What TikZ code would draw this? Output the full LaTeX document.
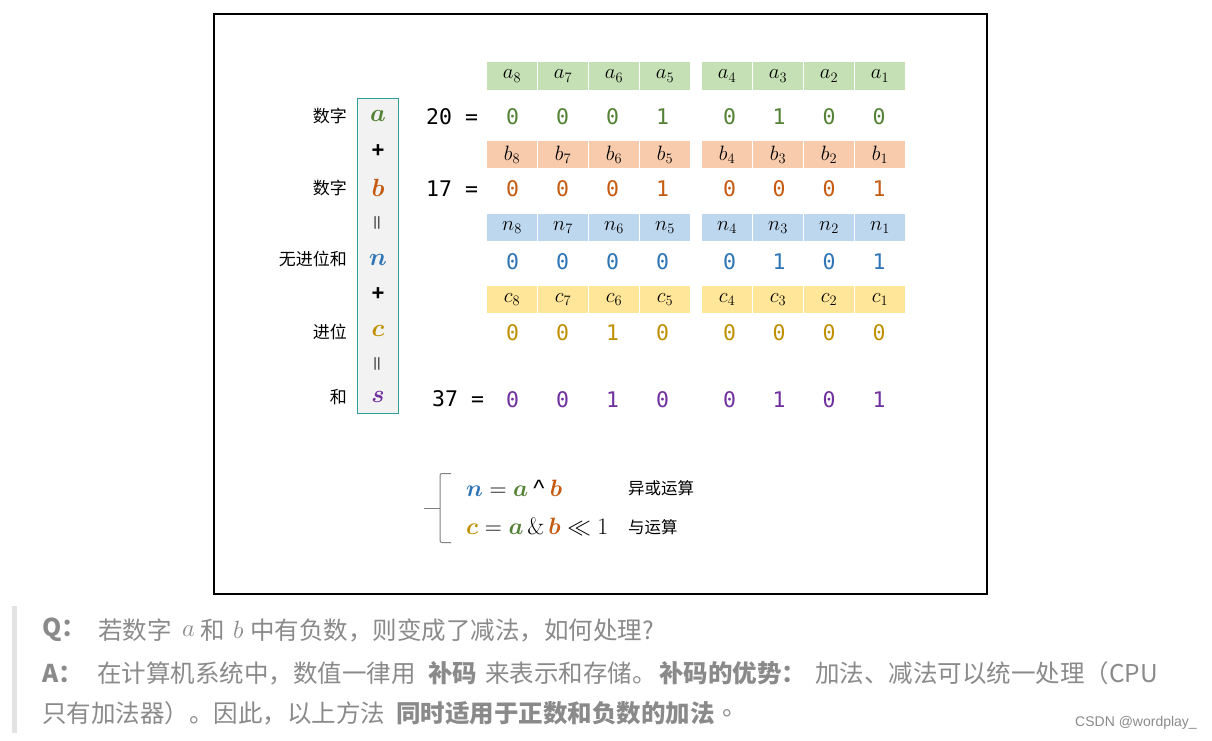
\documentclass[tikz,border=0pt]{standalone}
\usepackage{graphicx}
\usepackage{amsmath,amssymb,bm}
\usepackage{fontspec}
\newfontfamily\cjk{Noto Sans CJK SC}
\newfontfamily\monof{DejaVu Sans Mono}
\newfontfamily\arialf{Liberation Sans}
\definecolor{ga}{HTML}{548235}
\definecolor{ob}{HTML}{C55A11}
\definecolor{bn}{HTML}{2E75B6}
\definecolor{yc}{HTML}{BF9000}
\definecolor{ps}{HTML}{7030A0}
\definecolor{hga}{HTML}{C5E0B4}
\definecolor{hob}{HTML}{F8CBAD}
\definecolor{hbn}{HTML}{BDD7EE}
\definecolor{hyc}{HTML}{FFE699}
\definecolor{colfill}{HTML}{F2F2F2}
\definecolor{colline}{HTML}{2E9E98}
\definecolor{txtgray}{HTML}{8A8A8A}
\definecolor{bargray}{HTML}{E3E3E3}
\definecolor{bracegray}{HTML}{808080}
\tikzset{
  hdr/.style={minimum width=49.5, minimum height=27.5, inner sep=0, font=\fontsize{20.74}{22}\selectfont},
  dig/.style={font=\monof\fontsize{21.5}{24}\selectfont, inner sep=0},
  numlab/.style={font=\monof\fontsize{21.5}{24}\selectfont, inner sep=0, anchor=west},
  lab/.style={font=\cjk\fontsize{17}{20}\selectfont, anchor=east, inner sep=0},
  letter/.style={font=\fontsize{24.88}{26}\selectfont, inner sep=0},
  opsym/.style={font=\arialf\bfseries\fontsize{22}{22}\selectfont, inner sep=0},
  eqsym/.style={font=\fontsize{17.28}{20}\selectfont, inner sep=0, rotate=90},
  colbox/.style={draw=colline, fill=colfill, line width=1, minimum width=41, minimum height=314, inner sep=0},
  formula/.style={font=\fontsize{20.74}{24}\selectfont, inner sep=0, anchor=west},
  oplab/.style={font=\cjk\fontsize{16.5}{20}\selectfont, inner sep=0, anchor=west},
  qa/.style={font=\cjk\fontsize{24.5}{28}\selectfont, text=txtgray, inner sep=0, anchor=west},
  qab/.style={qa, font=\cjk\bfseries\fontsize{24.5}{28}\selectfont},
}
\newcommand{\caretsym}{\mathbin{\text{\arialf\char`\^}}}
\begin{document}
\begin{tikzpicture}[x=1pt,y=-1pt]
\useasboundingbox (0,0) rectangle (1212,741);
\fill[white] (0,0) rectangle (1212,741);
% frame
\node[draw=black, line width=1.5, minimum width=773, minimum height=580, inner sep=0] (frame) at (600.5,304) {};
% left column
\node[colbox] (col) at (378,256) {};
\node[letter, text=ga] (la) at (378,116) {$\bm{a}$};
\node[opsym] (p1) at (378,151) {+};
\node[letter, text=ob] (lb) at (378,188) {$\bm{b}$};
\node[eqsym] (e1) at (378,223) {$\bm{=}$};
\node[letter, text=bn] (ln) at (378,259.5) {$\bm{n}$};
\node[opsym] (p2) at (378,294) {+};
\node[letter, text=yc] (lc) at (378,331) {$\bm{c}$};
\node[eqsym] (e2) at (378,364) {$\bm{=}$};
\node[letter, text=ps] (ls) at (378,397) {$\bm{s}$};
% left labels
\node[lab] (t1) at (347,116) {数字};
\node[lab] (t2) at (347,188) {数字};
\node[lab] (t3) at (347,259) {无进位和};
\node[lab] (t4) at (347,332) {进位};
\node[lab] (t5) at (347,397) {和};
% numbers
\node[numlab] (n20) at (426,116.5) {20 =};
\node[numlab] (n17) at (426,188.5) {17 =};
\node[numlab] (n37) at (432,399) {37 =};
% header rows and digit rows
\foreach \r/\yh/\yd/\hc/\dc/\bits in {
  a/76/116.5/hga/ga/{0,0,0,1,0,1,0,0},
  b/154.7/188.5/hob/ob/{0,0,0,1,0,0,0,1},
  n/227.7/261.5/hbn/bn/{0,0,0,0,0,1,0,1},
  c/299.5/332.5/hyc/yc/{0,0,1,0,0,0,0,0}}{
  \foreach \x [count=\i] in {512,563,614,665,727,778,829,880}{
    \pgfmathtruncatemacro\k{9-\i}
    \node[hdr, fill=\hc] (h-\r-\i) at (\x,\yh) {$\r_{\k}$};
  }
  \foreach \b [count=\i] in \bits {
    \pgfmathsetmacro\dx{{512.5,562.5,612.5,662.5,729.5,779,829,879}[\i-1]}
    \node[dig, text=\dc] (d-\r-\i) at (\dx,\yd) {\b};
  }
}
\foreach \b [count=\i] in {0,0,1,0,0,1,0,1} {
  \pgfmathsetmacro\dx{{512.5,562.5,612.5,662.5,729.5,779,829,879}[\i-1]}
  \node[dig, text=ps] (d-s-\i) at (\dx,399.5) {\b};
}
% brace
\coordinate (bt) at (451,473.5);
\coordinate (bb) at (451,542.5);
\coordinate (bm) at (424,508);
\draw[bracegray, line width=1, rounded corners=2] (bt) -- (440,473.5) -- (440,542.5) -- (bb);
\draw[bracegray, line width=1, rounded corners=2] (bm) -- (440,508);
% formulas
\node[formula] (f1) at (466,488) {\scalebox{1.14}{$\color{bn}\bm{n}\color{black} = \color{ga}\bm{a}\color{black}\caretsym\color{ob}\bm{b}$}};
\node[formula] (f2) at (466,527) {\scalebox{1.14}{$\color{yc}\bm{c}\color{black} = \color{ga}\bm{a}\,\color{black}\&\,\color{ob}\bm{b}\color{black} \ll 1$}};
\node[oplab] (o1) at (628,488) {异或运算};
\node[oplab] (o2) at (628,527) {与运算};
% bottom text
\fill[bargray] (12,606) rectangle (17,733);
\node[qab] (q0) at (42,630) {Q：};
\node[qa] (q1) at (98,630) {若数字};
\node[qa, font=\fontsize{24.88}{28}\selectfont] (q2) at (182,631) {$a$};
\node[qa] (q3) at (200,630) {和};
\node[qa, font=\fontsize{24.88}{28}\selectfont] (q4) at (233,630) {$b$};
\node[qa] (q5) at (250,630) {中有负数，则变成了减法，如何处理?};
\node[qab] (a0) at (42,673) {A：};
\node[qa] (a1) at (97,673) {在计算机系统中，数值一律用};
\node[qab] (a2) at (428,673) {补码};
\node[qa] (a3) at (485,673) {来表示和存储。};
\node[qab] (a4) at (659,673) {补码的优势：};
\node[qa] (a5) at (815,673) {加法、减法可以统一处理（CPU};
\node[qa] (a6) at (42,713) {只有加法器）。因此，以上方法};
\node[qab] (a7) at (396,713) {同时适用于正数和负数的加法};
\node[qa] (a8) at (722,713) {。};
\node[font=\arialf\fontsize{14}{16}\selectfont, text=txtgray, inner sep=0, anchor=east] (csdn) at (1197,723) {CSDN @wordplay\_};
\end{tikzpicture}
\end{document}
